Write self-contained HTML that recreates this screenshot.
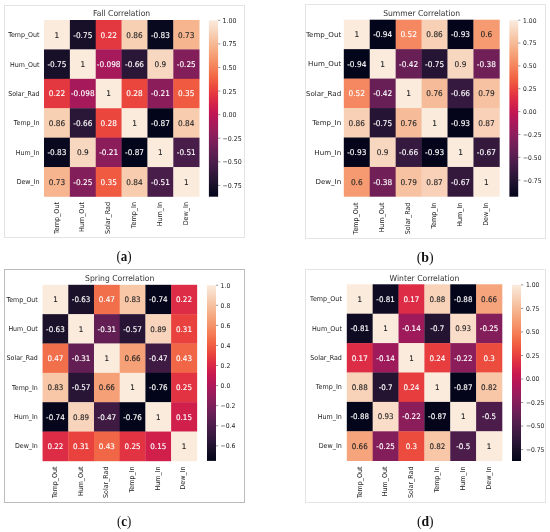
<!DOCTYPE html>
<html><head><meta charset="utf-8"><title>Correlation heatmaps</title>
<style>
html,body{margin:0;padding:0;background:#fff;}
svg{display:block;filter:blur(0.35px);font-family:"DejaVu Sans","Liberation Sans",sans-serif;}
</style></head><body>
<svg width="550" height="532" viewBox="0 0 550 532">
<defs><linearGradient id="gFall" x1="0" y1="0" x2="0" y2="1"><stop offset="0.0000" stop-color="#faebdd"/><stop offset="0.0312" stop-color="#f9e0cd"/><stop offset="0.0625" stop-color="#f8d4bc"/><stop offset="0.0938" stop-color="#f7c9aa"/><stop offset="0.1250" stop-color="#f6bc99"/><stop offset="0.1562" stop-color="#f6b089"/><stop offset="0.1875" stop-color="#f6a37a"/><stop offset="0.2188" stop-color="#f5966c"/><stop offset="0.2500" stop-color="#f58860"/><stop offset="0.2812" stop-color="#f47a54"/><stop offset="0.3125" stop-color="#f26b49"/><stop offset="0.3438" stop-color="#f05c42"/><stop offset="0.3750" stop-color="#ec4c3e"/><stop offset="0.4062" stop-color="#e73d3f"/><stop offset="0.4375" stop-color="#df2f44"/><stop offset="0.4688" stop-color="#d62449"/><stop offset="0.5000" stop-color="#cb1b4f"/><stop offset="0.5312" stop-color="#bf1654"/><stop offset="0.5625" stop-color="#b21758"/><stop offset="0.5938" stop-color="#a4195b"/><stop offset="0.6250" stop-color="#971c5b"/><stop offset="0.6562" stop-color="#891e5b"/><stop offset="0.6875" stop-color="#7b1f59"/><stop offset="0.7188" stop-color="#6e1f57"/><stop offset="0.7500" stop-color="#611f53"/><stop offset="0.7812" stop-color="#541e4e"/><stop offset="0.8125" stop-color="#481c48"/><stop offset="0.8438" stop-color="#3c1a42"/><stop offset="0.8750" stop-color="#30173a"/><stop offset="0.9062" stop-color="#241432"/><stop offset="0.9375" stop-color="#180f29"/><stop offset="0.9688" stop-color="#0d0a21"/><stop offset="1.0000" stop-color="#03051a"/></linearGradient><linearGradient id="gSummer" x1="0" y1="0" x2="0" y2="1"><stop offset="0.0000" stop-color="#faebdd"/><stop offset="0.0312" stop-color="#f9e0cd"/><stop offset="0.0625" stop-color="#f8d4bc"/><stop offset="0.0938" stop-color="#f7c9aa"/><stop offset="0.1250" stop-color="#f6bc99"/><stop offset="0.1562" stop-color="#f6b089"/><stop offset="0.1875" stop-color="#f6a37a"/><stop offset="0.2188" stop-color="#f5966c"/><stop offset="0.2500" stop-color="#f58860"/><stop offset="0.2812" stop-color="#f47a54"/><stop offset="0.3125" stop-color="#f26b49"/><stop offset="0.3438" stop-color="#f05c42"/><stop offset="0.3750" stop-color="#ec4c3e"/><stop offset="0.4062" stop-color="#e73d3f"/><stop offset="0.4375" stop-color="#df2f44"/><stop offset="0.4688" stop-color="#d62449"/><stop offset="0.5000" stop-color="#cb1b4f"/><stop offset="0.5312" stop-color="#bf1654"/><stop offset="0.5625" stop-color="#b21758"/><stop offset="0.5938" stop-color="#a4195b"/><stop offset="0.6250" stop-color="#971c5b"/><stop offset="0.6562" stop-color="#891e5b"/><stop offset="0.6875" stop-color="#7b1f59"/><stop offset="0.7188" stop-color="#6e1f57"/><stop offset="0.7500" stop-color="#611f53"/><stop offset="0.7812" stop-color="#541e4e"/><stop offset="0.8125" stop-color="#481c48"/><stop offset="0.8438" stop-color="#3c1a42"/><stop offset="0.8750" stop-color="#30173a"/><stop offset="0.9062" stop-color="#241432"/><stop offset="0.9375" stop-color="#180f29"/><stop offset="0.9688" stop-color="#0d0a21"/><stop offset="1.0000" stop-color="#03051a"/></linearGradient><linearGradient id="gSpring" x1="0" y1="0" x2="0" y2="1"><stop offset="0.0000" stop-color="#faebdd"/><stop offset="0.0312" stop-color="#f9e0cd"/><stop offset="0.0625" stop-color="#f8d4bc"/><stop offset="0.0938" stop-color="#f7c9aa"/><stop offset="0.1250" stop-color="#f6bc99"/><stop offset="0.1562" stop-color="#f6b089"/><stop offset="0.1875" stop-color="#f6a37a"/><stop offset="0.2188" stop-color="#f5966c"/><stop offset="0.2500" stop-color="#f58860"/><stop offset="0.2812" stop-color="#f47a54"/><stop offset="0.3125" stop-color="#f26b49"/><stop offset="0.3438" stop-color="#f05c42"/><stop offset="0.3750" stop-color="#ec4c3e"/><stop offset="0.4062" stop-color="#e73d3f"/><stop offset="0.4375" stop-color="#df2f44"/><stop offset="0.4688" stop-color="#d62449"/><stop offset="0.5000" stop-color="#cb1b4f"/><stop offset="0.5312" stop-color="#bf1654"/><stop offset="0.5625" stop-color="#b21758"/><stop offset="0.5938" stop-color="#a4195b"/><stop offset="0.6250" stop-color="#971c5b"/><stop offset="0.6562" stop-color="#891e5b"/><stop offset="0.6875" stop-color="#7b1f59"/><stop offset="0.7188" stop-color="#6e1f57"/><stop offset="0.7500" stop-color="#611f53"/><stop offset="0.7812" stop-color="#541e4e"/><stop offset="0.8125" stop-color="#481c48"/><stop offset="0.8438" stop-color="#3c1a42"/><stop offset="0.8750" stop-color="#30173a"/><stop offset="0.9062" stop-color="#241432"/><stop offset="0.9375" stop-color="#180f29"/><stop offset="0.9688" stop-color="#0d0a21"/><stop offset="1.0000" stop-color="#03051a"/></linearGradient><linearGradient id="gWinter" x1="0" y1="0" x2="0" y2="1"><stop offset="0.0000" stop-color="#faebdd"/><stop offset="0.0312" stop-color="#f9e0cd"/><stop offset="0.0625" stop-color="#f8d4bc"/><stop offset="0.0938" stop-color="#f7c9aa"/><stop offset="0.1250" stop-color="#f6bc99"/><stop offset="0.1562" stop-color="#f6b089"/><stop offset="0.1875" stop-color="#f6a37a"/><stop offset="0.2188" stop-color="#f5966c"/><stop offset="0.2500" stop-color="#f58860"/><stop offset="0.2812" stop-color="#f47a54"/><stop offset="0.3125" stop-color="#f26b49"/><stop offset="0.3438" stop-color="#f05c42"/><stop offset="0.3750" stop-color="#ec4c3e"/><stop offset="0.4062" stop-color="#e73d3f"/><stop offset="0.4375" stop-color="#df2f44"/><stop offset="0.4688" stop-color="#d62449"/><stop offset="0.5000" stop-color="#cb1b4f"/><stop offset="0.5312" stop-color="#bf1654"/><stop offset="0.5625" stop-color="#b21758"/><stop offset="0.5938" stop-color="#a4195b"/><stop offset="0.6250" stop-color="#971c5b"/><stop offset="0.6562" stop-color="#891e5b"/><stop offset="0.6875" stop-color="#7b1f59"/><stop offset="0.7188" stop-color="#6e1f57"/><stop offset="0.7500" stop-color="#611f53"/><stop offset="0.7812" stop-color="#541e4e"/><stop offset="0.8125" stop-color="#481c48"/><stop offset="0.8438" stop-color="#3c1a42"/><stop offset="0.8750" stop-color="#30173a"/><stop offset="0.9062" stop-color="#241432"/><stop offset="0.9375" stop-color="#180f29"/><stop offset="0.9688" stop-color="#0d0a21"/><stop offset="1.0000" stop-color="#03051a"/></linearGradient></defs>
<rect width="550" height="532" fill="#fff"/>
<rect x="4.5" y="5.5" width="240.00" height="232.00" fill="#fff" stroke="#e4e4e4" stroke-width="1"/>
<text transform="translate(121.60,16.40) scale(1,1.07)" font-size="7.65" text-anchor="middle" fill="#333">Fall Correlation</text>
<rect x="44.00" y="20.00" width="26.17" height="29.72" fill="#faebdd"/>
<rect x="69.87" y="20.00" width="26.17" height="29.72" fill="#180f29"/>
<rect x="95.73" y="20.00" width="26.17" height="29.72" fill="#e43841"/>
<rect x="121.60" y="20.00" width="26.17" height="29.72" fill="#f7cfb3"/>
<rect x="147.47" y="20.00" width="26.17" height="29.72" fill="#08081e"/>
<rect x="173.33" y="20.00" width="26.17" height="29.72" fill="#f6b48f"/>
<rect x="44.00" y="49.42" width="26.17" height="29.72" fill="#180f29"/>
<rect x="69.87" y="49.42" width="26.17" height="29.72" fill="#faebdd"/>
<rect x="95.73" y="49.42" width="26.17" height="29.72" fill="#a6195a"/>
<rect x="121.60" y="49.42" width="26.17" height="29.72" fill="#2a1636"/>
<rect x="147.47" y="49.42" width="26.17" height="29.72" fill="#f8d7c0"/>
<rect x="173.33" y="49.42" width="26.17" height="29.72" fill="#821e5a"/>
<rect x="44.00" y="78.83" width="26.17" height="29.72" fill="#e43841"/>
<rect x="69.87" y="78.83" width="26.17" height="29.72" fill="#a6195a"/>
<rect x="95.73" y="78.83" width="26.17" height="29.72" fill="#faebdd"/>
<rect x="121.60" y="78.83" width="26.17" height="29.72" fill="#eb463e"/>
<rect x="147.47" y="78.83" width="26.17" height="29.72" fill="#8c1d5b"/>
<rect x="173.33" y="78.83" width="26.17" height="29.72" fill="#ef5a41"/>
<rect x="44.00" y="108.25" width="26.17" height="29.72" fill="#f7cfb3"/>
<rect x="69.87" y="108.25" width="26.17" height="29.72" fill="#2a1636"/>
<rect x="95.73" y="108.25" width="26.17" height="29.72" fill="#eb463e"/>
<rect x="121.60" y="108.25" width="26.17" height="29.72" fill="#faebdd"/>
<rect x="147.47" y="108.25" width="26.17" height="29.72" fill="#03051a"/>
<rect x="173.33" y="108.25" width="26.17" height="29.72" fill="#f7ccaf"/>
<rect x="44.00" y="137.67" width="26.17" height="29.72" fill="#08081e"/>
<rect x="69.87" y="137.67" width="26.17" height="29.72" fill="#f8d7c0"/>
<rect x="95.73" y="137.67" width="26.17" height="29.72" fill="#8c1d5b"/>
<rect x="121.60" y="137.67" width="26.17" height="29.72" fill="#03051a"/>
<rect x="147.47" y="137.67" width="26.17" height="29.72" fill="#faebdd"/>
<rect x="173.33" y="137.67" width="26.17" height="29.72" fill="#491d49"/>
<rect x="44.00" y="167.08" width="26.17" height="29.72" fill="#f6b48f"/>
<rect x="69.87" y="167.08" width="26.17" height="29.72" fill="#821e5a"/>
<rect x="95.73" y="167.08" width="26.17" height="29.72" fill="#ef5a41"/>
<rect x="121.60" y="167.08" width="26.17" height="29.72" fill="#f7ccaf"/>
<rect x="147.47" y="167.08" width="26.17" height="29.72" fill="#491d49"/>
<rect x="173.33" y="167.08" width="26.17" height="29.72" fill="#faebdd"/>
<text transform="translate(56.93,37.58) scale(1,1.07)" font-size="7.35" text-anchor="middle" fill="#262626" stroke="#262626" stroke-width="0.12">1</text>
<text transform="translate(82.80,37.58) scale(1,1.07)" font-size="7.35" text-anchor="middle" fill="#ffffff" stroke="#ffffff" stroke-width="0.12">-0.75</text>
<text transform="translate(108.67,37.58) scale(1,1.07)" font-size="7.35" text-anchor="middle" fill="#ffffff" stroke="#ffffff" stroke-width="0.12">0.22</text>
<text transform="translate(134.53,37.58) scale(1,1.07)" font-size="7.35" text-anchor="middle" fill="#262626" stroke="#262626" stroke-width="0.12">0.86</text>
<text transform="translate(160.40,37.58) scale(1,1.07)" font-size="7.35" text-anchor="middle" fill="#ffffff" stroke="#ffffff" stroke-width="0.12">-0.83</text>
<text transform="translate(186.27,37.58) scale(1,1.07)" font-size="7.35" text-anchor="middle" fill="#262626" stroke="#262626" stroke-width="0.12">0.73</text>
<text transform="translate(56.93,67.00) scale(1,1.07)" font-size="7.35" text-anchor="middle" fill="#ffffff" stroke="#ffffff" stroke-width="0.12">-0.75</text>
<text transform="translate(82.80,67.00) scale(1,1.07)" font-size="7.35" text-anchor="middle" fill="#262626" stroke="#262626" stroke-width="0.12">1</text>
<text transform="translate(108.67,67.00) scale(1,1.07)" font-size="7.35" text-anchor="middle" fill="#ffffff" stroke="#ffffff" stroke-width="0.12">-0.098</text>
<text transform="translate(134.53,67.00) scale(1,1.07)" font-size="7.35" text-anchor="middle" fill="#ffffff" stroke="#ffffff" stroke-width="0.12">-0.66</text>
<text transform="translate(160.40,67.00) scale(1,1.07)" font-size="7.35" text-anchor="middle" fill="#262626" stroke="#262626" stroke-width="0.12">0.9</text>
<text transform="translate(186.27,67.00) scale(1,1.07)" font-size="7.35" text-anchor="middle" fill="#ffffff" stroke="#ffffff" stroke-width="0.12">-0.25</text>
<text transform="translate(56.93,96.41) scale(1,1.07)" font-size="7.35" text-anchor="middle" fill="#ffffff" stroke="#ffffff" stroke-width="0.12">0.22</text>
<text transform="translate(82.80,96.41) scale(1,1.07)" font-size="7.35" text-anchor="middle" fill="#ffffff" stroke="#ffffff" stroke-width="0.12">-0.098</text>
<text transform="translate(108.67,96.41) scale(1,1.07)" font-size="7.35" text-anchor="middle" fill="#262626" stroke="#262626" stroke-width="0.12">1</text>
<text transform="translate(134.53,96.41) scale(1,1.07)" font-size="7.35" text-anchor="middle" fill="#ffffff" stroke="#ffffff" stroke-width="0.12">0.28</text>
<text transform="translate(160.40,96.41) scale(1,1.07)" font-size="7.35" text-anchor="middle" fill="#ffffff" stroke="#ffffff" stroke-width="0.12">-0.21</text>
<text transform="translate(186.27,96.41) scale(1,1.07)" font-size="7.35" text-anchor="middle" fill="#ffffff" stroke="#ffffff" stroke-width="0.12">0.35</text>
<text transform="translate(56.93,125.83) scale(1,1.07)" font-size="7.35" text-anchor="middle" fill="#262626" stroke="#262626" stroke-width="0.12">0.86</text>
<text transform="translate(82.80,125.83) scale(1,1.07)" font-size="7.35" text-anchor="middle" fill="#ffffff" stroke="#ffffff" stroke-width="0.12">-0.66</text>
<text transform="translate(108.67,125.83) scale(1,1.07)" font-size="7.35" text-anchor="middle" fill="#ffffff" stroke="#ffffff" stroke-width="0.12">0.28</text>
<text transform="translate(134.53,125.83) scale(1,1.07)" font-size="7.35" text-anchor="middle" fill="#262626" stroke="#262626" stroke-width="0.12">1</text>
<text transform="translate(160.40,125.83) scale(1,1.07)" font-size="7.35" text-anchor="middle" fill="#ffffff" stroke="#ffffff" stroke-width="0.12">-0.87</text>
<text transform="translate(186.27,125.83) scale(1,1.07)" font-size="7.35" text-anchor="middle" fill="#262626" stroke="#262626" stroke-width="0.12">0.84</text>
<text transform="translate(56.93,155.25) scale(1,1.07)" font-size="7.35" text-anchor="middle" fill="#ffffff" stroke="#ffffff" stroke-width="0.12">-0.83</text>
<text transform="translate(82.80,155.25) scale(1,1.07)" font-size="7.35" text-anchor="middle" fill="#262626" stroke="#262626" stroke-width="0.12">0.9</text>
<text transform="translate(108.67,155.25) scale(1,1.07)" font-size="7.35" text-anchor="middle" fill="#ffffff" stroke="#ffffff" stroke-width="0.12">-0.21</text>
<text transform="translate(134.53,155.25) scale(1,1.07)" font-size="7.35" text-anchor="middle" fill="#ffffff" stroke="#ffffff" stroke-width="0.12">-0.87</text>
<text transform="translate(160.40,155.25) scale(1,1.07)" font-size="7.35" text-anchor="middle" fill="#262626" stroke="#262626" stroke-width="0.12">1</text>
<text transform="translate(186.27,155.25) scale(1,1.07)" font-size="7.35" text-anchor="middle" fill="#ffffff" stroke="#ffffff" stroke-width="0.12">-0.51</text>
<text transform="translate(56.93,184.66) scale(1,1.07)" font-size="7.35" text-anchor="middle" fill="#262626" stroke="#262626" stroke-width="0.12">0.73</text>
<text transform="translate(82.80,184.66) scale(1,1.07)" font-size="7.35" text-anchor="middle" fill="#ffffff" stroke="#ffffff" stroke-width="0.12">-0.25</text>
<text transform="translate(108.67,184.66) scale(1,1.07)" font-size="7.35" text-anchor="middle" fill="#ffffff" stroke="#ffffff" stroke-width="0.12">0.35</text>
<text transform="translate(134.53,184.66) scale(1,1.07)" font-size="7.35" text-anchor="middle" fill="#262626" stroke="#262626" stroke-width="0.12">0.84</text>
<text transform="translate(160.40,184.66) scale(1,1.07)" font-size="7.35" text-anchor="middle" fill="#ffffff" stroke="#ffffff" stroke-width="0.12">-0.51</text>
<text transform="translate(186.27,184.66) scale(1,1.07)" font-size="7.35" text-anchor="middle" fill="#262626" stroke="#262626" stroke-width="0.12">1</text>
<text transform="translate(39.55,37.18) scale(1,1.07)" font-size="6.32" text-anchor="end" fill="#222">Temp_Out</text>
<text transform="translate(39.55,66.59) scale(1,1.07)" font-size="6.32" text-anchor="end" fill="#222">Hum_Out</text>
<text transform="translate(39.55,96.01) scale(1,1.07)" font-size="6.32" text-anchor="end" fill="#222">Solar_Rad</text>
<text transform="translate(39.55,125.43) scale(1,1.07)" font-size="6.32" text-anchor="end" fill="#222">Temp_In</text>
<text transform="translate(39.55,154.84) scale(1,1.07)" font-size="6.32" text-anchor="end" fill="#222">Hum_In</text>
<text transform="translate(39.55,184.26) scale(1,1.07)" font-size="6.32" text-anchor="end" fill="#222">Dew_In</text>
<text transform="translate(58.60,202.00) rotate(-90) scale(1,1.07)" font-size="6.45" text-anchor="end" fill="#222">Temp_Out</text>
<text transform="translate(84.47,202.00) rotate(-90) scale(1,1.07)" font-size="6.45" text-anchor="end" fill="#222">Hum_Out</text>
<text transform="translate(110.34,202.00) rotate(-90) scale(1,1.07)" font-size="6.45" text-anchor="end" fill="#222">Solar_Rad</text>
<text transform="translate(136.20,202.00) rotate(-90) scale(1,1.07)" font-size="6.45" text-anchor="end" fill="#222">Temp_In</text>
<text transform="translate(162.07,202.00) rotate(-90) scale(1,1.07)" font-size="6.45" text-anchor="end" fill="#222">Hum_In</text>
<text transform="translate(187.94,202.00) rotate(-90) scale(1,1.07)" font-size="6.45" text-anchor="end" fill="#222">Dew_In</text>
<rect x="208.9" y="20.3" width="9.20" height="176.40" fill="url(#gFall)"/>
<line x1="218.10" x2="220.30" y1="20.30" y2="20.30" stroke="#333" stroke-width="0.5"/>
<text transform="translate(222.40,22.76) scale(1,1.07)" font-size="6.3" fill="#222">1.00</text>
<line x1="218.10" x2="220.30" y1="43.88" y2="43.88" stroke="#333" stroke-width="0.5"/>
<text transform="translate(222.40,46.34) scale(1,1.07)" font-size="6.3" fill="#222">0.75</text>
<line x1="218.10" x2="220.30" y1="67.47" y2="67.47" stroke="#333" stroke-width="0.5"/>
<text transform="translate(222.40,69.93) scale(1,1.07)" font-size="6.3" fill="#222">0.50</text>
<line x1="218.10" x2="220.30" y1="91.05" y2="91.05" stroke="#333" stroke-width="0.5"/>
<text transform="translate(222.40,93.51) scale(1,1.07)" font-size="6.3" fill="#222">0.25</text>
<line x1="218.10" x2="220.30" y1="114.63" y2="114.63" stroke="#333" stroke-width="0.5"/>
<text transform="translate(222.40,117.09) scale(1,1.07)" font-size="6.3" fill="#222">0.00</text>
<line x1="218.10" x2="220.30" y1="138.21" y2="138.21" stroke="#333" stroke-width="0.5"/>
<text transform="translate(222.40,140.67) scale(1,1.07)" font-size="6.3" fill="#222">−0.25</text>
<line x1="218.10" x2="220.30" y1="161.80" y2="161.80" stroke="#333" stroke-width="0.5"/>
<text transform="translate(222.40,164.26) scale(1,1.07)" font-size="6.3" fill="#222">−0.50</text>
<line x1="218.10" x2="220.30" y1="185.38" y2="185.38" stroke="#333" stroke-width="0.5"/>
<text transform="translate(222.40,187.84) scale(1,1.07)" font-size="6.3" fill="#222">−0.75</text>
<text transform="translate(124.1,261.4) scale(0.94,1)" font-size="13.9" text-anchor="middle" fill="#111" font-family="'Liberation Serif', 'DejaVu Serif', serif">(<tspan font-weight="bold">a</tspan>)</text>
<rect x="305.5" y="4.5" width="240.00" height="234.00" fill="#fff" stroke="#e4e4e4" stroke-width="1"/>
<text transform="translate(421.60,16.10) scale(1,1.07)" font-size="7.65" text-anchor="middle" fill="#333">Summer Correlation</text>
<rect x="343.80" y="19.70" width="26.23" height="29.75" fill="#faebdd"/>
<rect x="369.73" y="19.70" width="26.23" height="29.75" fill="#03051a"/>
<rect x="395.67" y="19.70" width="26.23" height="29.75" fill="#f58860"/>
<rect x="421.60" y="19.70" width="26.23" height="29.75" fill="#f7d0b5"/>
<rect x="447.53" y="19.70" width="26.23" height="29.75" fill="#04051a"/>
<rect x="473.47" y="19.70" width="26.23" height="29.75" fill="#f69b71"/>
<rect x="343.80" y="49.15" width="26.23" height="29.75" fill="#03051a"/>
<rect x="369.73" y="49.15" width="26.23" height="29.75" fill="#faebdd"/>
<rect x="395.67" y="49.15" width="26.23" height="29.75" fill="#681f55"/>
<rect x="421.60" y="49.15" width="26.23" height="29.75" fill="#251433"/>
<rect x="447.53" y="49.15" width="26.23" height="29.75" fill="#f8d7c0"/>
<rect x="473.47" y="49.15" width="26.23" height="29.75" fill="#701f57"/>
<rect x="343.80" y="78.60" width="26.23" height="29.75" fill="#f58860"/>
<rect x="369.73" y="78.60" width="26.23" height="29.75" fill="#681f55"/>
<rect x="395.67" y="78.60" width="26.23" height="29.75" fill="#faebdd"/>
<rect x="421.60" y="78.60" width="26.23" height="29.75" fill="#f6bc99"/>
<rect x="447.53" y="78.60" width="26.23" height="29.75" fill="#35193e"/>
<rect x="473.47" y="78.60" width="26.23" height="29.75" fill="#f7c2a2"/>
<rect x="343.80" y="108.05" width="26.23" height="29.75" fill="#f7d0b5"/>
<rect x="369.73" y="108.05" width="26.23" height="29.75" fill="#251433"/>
<rect x="395.67" y="108.05" width="26.23" height="29.75" fill="#f6bc99"/>
<rect x="421.60" y="108.05" width="26.23" height="29.75" fill="#faebdd"/>
<rect x="447.53" y="108.05" width="26.23" height="29.75" fill="#04051a"/>
<rect x="473.47" y="108.05" width="26.23" height="29.75" fill="#f8d1b8"/>
<rect x="343.80" y="137.50" width="26.23" height="29.75" fill="#04051a"/>
<rect x="369.73" y="137.50" width="26.23" height="29.75" fill="#f8d7c0"/>
<rect x="395.67" y="137.50" width="26.23" height="29.75" fill="#35193e"/>
<rect x="421.60" y="137.50" width="26.23" height="29.75" fill="#04051a"/>
<rect x="447.53" y="137.50" width="26.23" height="29.75" fill="#faebdd"/>
<rect x="473.47" y="137.50" width="26.23" height="29.75" fill="#34193d"/>
<rect x="343.80" y="166.95" width="26.23" height="29.75" fill="#f69b71"/>
<rect x="369.73" y="166.95" width="26.23" height="29.75" fill="#701f57"/>
<rect x="395.67" y="166.95" width="26.23" height="29.75" fill="#f7c2a2"/>
<rect x="421.60" y="166.95" width="26.23" height="29.75" fill="#f8d1b8"/>
<rect x="447.53" y="166.95" width="26.23" height="29.75" fill="#34193d"/>
<rect x="473.47" y="166.95" width="26.23" height="29.75" fill="#faebdd"/>
<text transform="translate(356.77,37.32) scale(1,1.07)" font-size="7.4" text-anchor="middle" fill="#262626" stroke="#262626" stroke-width="0.12">1</text>
<text transform="translate(382.70,37.32) scale(1,1.07)" font-size="7.4" text-anchor="middle" fill="#ffffff" stroke="#ffffff" stroke-width="0.12">-0.94</text>
<text transform="translate(408.63,37.32) scale(1,1.07)" font-size="7.4" text-anchor="middle" fill="#ffffff" stroke="#ffffff" stroke-width="0.12">0.52</text>
<text transform="translate(434.57,37.32) scale(1,1.07)" font-size="7.4" text-anchor="middle" fill="#262626" stroke="#262626" stroke-width="0.12">0.86</text>
<text transform="translate(460.50,37.32) scale(1,1.07)" font-size="7.4" text-anchor="middle" fill="#ffffff" stroke="#ffffff" stroke-width="0.12">-0.93</text>
<text transform="translate(486.43,37.32) scale(1,1.07)" font-size="7.4" text-anchor="middle" fill="#262626" stroke="#262626" stroke-width="0.12">0.6</text>
<text transform="translate(356.77,66.77) scale(1,1.07)" font-size="7.4" text-anchor="middle" fill="#ffffff" stroke="#ffffff" stroke-width="0.12">-0.94</text>
<text transform="translate(382.70,66.77) scale(1,1.07)" font-size="7.4" text-anchor="middle" fill="#262626" stroke="#262626" stroke-width="0.12">1</text>
<text transform="translate(408.63,66.77) scale(1,1.07)" font-size="7.4" text-anchor="middle" fill="#ffffff" stroke="#ffffff" stroke-width="0.12">-0.42</text>
<text transform="translate(434.57,66.77) scale(1,1.07)" font-size="7.4" text-anchor="middle" fill="#ffffff" stroke="#ffffff" stroke-width="0.12">-0.75</text>
<text transform="translate(460.50,66.77) scale(1,1.07)" font-size="7.4" text-anchor="middle" fill="#262626" stroke="#262626" stroke-width="0.12">0.9</text>
<text transform="translate(486.43,66.77) scale(1,1.07)" font-size="7.4" text-anchor="middle" fill="#ffffff" stroke="#ffffff" stroke-width="0.12">-0.38</text>
<text transform="translate(356.77,96.22) scale(1,1.07)" font-size="7.4" text-anchor="middle" fill="#ffffff" stroke="#ffffff" stroke-width="0.12">0.52</text>
<text transform="translate(382.70,96.22) scale(1,1.07)" font-size="7.4" text-anchor="middle" fill="#ffffff" stroke="#ffffff" stroke-width="0.12">-0.42</text>
<text transform="translate(408.63,96.22) scale(1,1.07)" font-size="7.4" text-anchor="middle" fill="#262626" stroke="#262626" stroke-width="0.12">1</text>
<text transform="translate(434.57,96.22) scale(1,1.07)" font-size="7.4" text-anchor="middle" fill="#262626" stroke="#262626" stroke-width="0.12">0.76</text>
<text transform="translate(460.50,96.22) scale(1,1.07)" font-size="7.4" text-anchor="middle" fill="#ffffff" stroke="#ffffff" stroke-width="0.12">-0.66</text>
<text transform="translate(486.43,96.22) scale(1,1.07)" font-size="7.4" text-anchor="middle" fill="#262626" stroke="#262626" stroke-width="0.12">0.79</text>
<text transform="translate(356.77,125.67) scale(1,1.07)" font-size="7.4" text-anchor="middle" fill="#262626" stroke="#262626" stroke-width="0.12">0.86</text>
<text transform="translate(382.70,125.67) scale(1,1.07)" font-size="7.4" text-anchor="middle" fill="#ffffff" stroke="#ffffff" stroke-width="0.12">-0.75</text>
<text transform="translate(408.63,125.67) scale(1,1.07)" font-size="7.4" text-anchor="middle" fill="#262626" stroke="#262626" stroke-width="0.12">0.76</text>
<text transform="translate(434.57,125.67) scale(1,1.07)" font-size="7.4" text-anchor="middle" fill="#262626" stroke="#262626" stroke-width="0.12">1</text>
<text transform="translate(460.50,125.67) scale(1,1.07)" font-size="7.4" text-anchor="middle" fill="#ffffff" stroke="#ffffff" stroke-width="0.12">-0.93</text>
<text transform="translate(486.43,125.67) scale(1,1.07)" font-size="7.4" text-anchor="middle" fill="#262626" stroke="#262626" stroke-width="0.12">0.87</text>
<text transform="translate(356.77,155.12) scale(1,1.07)" font-size="7.4" text-anchor="middle" fill="#ffffff" stroke="#ffffff" stroke-width="0.12">-0.93</text>
<text transform="translate(382.70,155.12) scale(1,1.07)" font-size="7.4" text-anchor="middle" fill="#262626" stroke="#262626" stroke-width="0.12">0.9</text>
<text transform="translate(408.63,155.12) scale(1,1.07)" font-size="7.4" text-anchor="middle" fill="#ffffff" stroke="#ffffff" stroke-width="0.12">-0.66</text>
<text transform="translate(434.57,155.12) scale(1,1.07)" font-size="7.4" text-anchor="middle" fill="#ffffff" stroke="#ffffff" stroke-width="0.12">-0.93</text>
<text transform="translate(460.50,155.12) scale(1,1.07)" font-size="7.4" text-anchor="middle" fill="#262626" stroke="#262626" stroke-width="0.12">1</text>
<text transform="translate(486.43,155.12) scale(1,1.07)" font-size="7.4" text-anchor="middle" fill="#ffffff" stroke="#ffffff" stroke-width="0.12">-0.67</text>
<text transform="translate(356.77,184.57) scale(1,1.07)" font-size="7.4" text-anchor="middle" fill="#262626" stroke="#262626" stroke-width="0.12">0.6</text>
<text transform="translate(382.70,184.57) scale(1,1.07)" font-size="7.4" text-anchor="middle" fill="#ffffff" stroke="#ffffff" stroke-width="0.12">-0.38</text>
<text transform="translate(408.63,184.57) scale(1,1.07)" font-size="7.4" text-anchor="middle" fill="#262626" stroke="#262626" stroke-width="0.12">0.79</text>
<text transform="translate(434.57,184.57) scale(1,1.07)" font-size="7.4" text-anchor="middle" fill="#262626" stroke="#262626" stroke-width="0.12">0.87</text>
<text transform="translate(460.50,184.57) scale(1,1.07)" font-size="7.4" text-anchor="middle" fill="#ffffff" stroke="#ffffff" stroke-width="0.12">-0.67</text>
<text transform="translate(486.43,184.57) scale(1,1.07)" font-size="7.4" text-anchor="middle" fill="#262626" stroke="#262626" stroke-width="0.12">1</text>
<text transform="translate(341.20,37.04) scale(1,0.97)" font-size="7.1" text-anchor="end" fill="#222">Temp_Out</text>
<text transform="translate(341.20,66.49) scale(1,0.97)" font-size="7.1" text-anchor="end" fill="#222">Hum_Out</text>
<text transform="translate(341.20,95.94) scale(1,0.97)" font-size="7.1" text-anchor="end" fill="#222">Solar_Rad</text>
<text transform="translate(341.20,125.39) scale(1,0.97)" font-size="7.1" text-anchor="end" fill="#222">Temp_In</text>
<text transform="translate(341.20,154.84) scale(1,0.97)" font-size="7.1" text-anchor="end" fill="#222">Hum_In</text>
<text transform="translate(341.20,184.29) scale(1,0.97)" font-size="7.1" text-anchor="end" fill="#222">Dew_In</text>
<text transform="translate(358.37,202.60) rotate(-90) scale(1,1.07)" font-size="6.4" text-anchor="end" fill="#222">Temp_Out</text>
<text transform="translate(384.30,202.60) rotate(-90) scale(1,1.07)" font-size="6.4" text-anchor="end" fill="#222">Hum_Out</text>
<text transform="translate(410.23,202.60) rotate(-90) scale(1,1.07)" font-size="6.4" text-anchor="end" fill="#222">Solar_Rad</text>
<text transform="translate(436.17,202.60) rotate(-90) scale(1,1.07)" font-size="6.4" text-anchor="end" fill="#222">Temp_In</text>
<text transform="translate(462.10,202.60) rotate(-90) scale(1,1.07)" font-size="6.4" text-anchor="end" fill="#222">Hum_In</text>
<text transform="translate(488.03,202.60) rotate(-90) scale(1,1.07)" font-size="6.4" text-anchor="end" fill="#222">Dew_In</text>
<rect x="509.4" y="20.2" width="8.80" height="176.50" fill="url(#gSummer)"/>
<line x1="518.20" x2="520.40" y1="20.20" y2="20.20" stroke="#333" stroke-width="0.5"/>
<text transform="translate(523.10,22.54) scale(1,1.07)" font-size="6.0" fill="#222">1.00</text>
<line x1="518.20" x2="520.40" y1="43.05" y2="43.05" stroke="#333" stroke-width="0.5"/>
<text transform="translate(523.10,45.39) scale(1,1.07)" font-size="6.0" fill="#222">0.75</text>
<line x1="518.20" x2="520.40" y1="65.90" y2="65.90" stroke="#333" stroke-width="0.5"/>
<text transform="translate(523.10,68.25) scale(1,1.07)" font-size="6.0" fill="#222">0.50</text>
<line x1="518.20" x2="520.40" y1="88.75" y2="88.75" stroke="#333" stroke-width="0.5"/>
<text transform="translate(523.10,91.10) scale(1,1.07)" font-size="6.0" fill="#222">0.25</text>
<line x1="518.20" x2="520.40" y1="111.60" y2="111.60" stroke="#333" stroke-width="0.5"/>
<text transform="translate(523.10,113.95) scale(1,1.07)" font-size="6.0" fill="#222">0.00</text>
<line x1="518.20" x2="520.40" y1="134.45" y2="134.45" stroke="#333" stroke-width="0.5"/>
<text transform="translate(523.10,136.80) scale(1,1.07)" font-size="6.0" fill="#222">−0.25</text>
<line x1="518.20" x2="520.40" y1="157.31" y2="157.31" stroke="#333" stroke-width="0.5"/>
<text transform="translate(523.10,159.65) scale(1,1.07)" font-size="6.0" fill="#222">−0.50</text>
<line x1="518.20" x2="520.40" y1="180.16" y2="180.16" stroke="#333" stroke-width="0.5"/>
<text transform="translate(523.10,182.50) scale(1,1.07)" font-size="6.0" fill="#222">−0.75</text>
<text transform="translate(425.2,261.7) scale(1.0,1)" font-size="13.9" text-anchor="middle" fill="#111" font-family="'Liberation Serif', 'DejaVu Serif', serif">(<tspan font-weight="bold">b</tspan>)</text>
<rect x="4.5" y="269.5" width="240.00" height="233.00" fill="#fff" stroke="#bcbcbc" stroke-width="1"/>
<text transform="translate(119.70,281.20) scale(1,1.07)" font-size="7.65" text-anchor="middle" fill="#333">Spring Correlation</text>
<rect x="42.55" y="284.80" width="26.02" height="29.65" fill="#faebdd"/>
<rect x="68.27" y="284.80" width="26.02" height="29.65" fill="#1b112b"/>
<rect x="93.98" y="284.80" width="26.02" height="29.65" fill="#f26f4c"/>
<rect x="119.70" y="284.80" width="26.02" height="29.65" fill="#f7c7a8"/>
<rect x="145.42" y="284.80" width="26.02" height="29.65" fill="#05061b"/>
<rect x="171.13" y="284.80" width="26.02" height="29.65" fill="#dd2c45"/>
<rect x="42.55" y="314.15" width="26.02" height="29.65" fill="#1b112b"/>
<rect x="68.27" y="314.15" width="26.02" height="29.65" fill="#faebdd"/>
<rect x="93.98" y="314.15" width="26.02" height="29.65" fill="#631f53"/>
<rect x="119.70" y="314.15" width="26.02" height="29.65" fill="#281535"/>
<rect x="145.42" y="314.15" width="26.02" height="29.65" fill="#f8d4bc"/>
<rect x="171.13" y="314.15" width="26.02" height="29.65" fill="#e9423e"/>
<rect x="42.55" y="343.50" width="26.02" height="29.65" fill="#f26f4c"/>
<rect x="68.27" y="343.50" width="26.02" height="29.65" fill="#631f53"/>
<rect x="93.98" y="343.50" width="26.02" height="29.65" fill="#faebdd"/>
<rect x="119.70" y="343.50" width="26.02" height="29.65" fill="#f6a077"/>
<rect x="145.42" y="343.50" width="26.02" height="29.65" fill="#3f1b43"/>
<rect x="171.13" y="343.50" width="26.02" height="29.65" fill="#f16646"/>
<rect x="42.55" y="372.85" width="26.02" height="29.65" fill="#f7c7a8"/>
<rect x="68.27" y="372.85" width="26.02" height="29.65" fill="#281535"/>
<rect x="93.98" y="372.85" width="26.02" height="29.65" fill="#f6a077"/>
<rect x="119.70" y="372.85" width="26.02" height="29.65" fill="#faebdd"/>
<rect x="145.42" y="372.85" width="26.02" height="29.65" fill="#03051a"/>
<rect x="171.13" y="372.85" width="26.02" height="29.65" fill="#e13342"/>
<rect x="42.55" y="402.20" width="26.02" height="29.65" fill="#05061b"/>
<rect x="68.27" y="402.20" width="26.02" height="29.65" fill="#f8d4bc"/>
<rect x="93.98" y="402.20" width="26.02" height="29.65" fill="#3f1b43"/>
<rect x="119.70" y="402.20" width="26.02" height="29.65" fill="#03051a"/>
<rect x="145.42" y="402.20" width="26.02" height="29.65" fill="#faebdd"/>
<rect x="171.13" y="402.20" width="26.02" height="29.65" fill="#d11f4c"/>
<rect x="42.55" y="431.55" width="26.02" height="29.65" fill="#dd2c45"/>
<rect x="68.27" y="431.55" width="26.02" height="29.65" fill="#e9423e"/>
<rect x="93.98" y="431.55" width="26.02" height="29.65" fill="#f16646"/>
<rect x="119.70" y="431.55" width="26.02" height="29.65" fill="#e13342"/>
<rect x="145.42" y="431.55" width="26.02" height="29.65" fill="#d11f4c"/>
<rect x="171.13" y="431.55" width="26.02" height="29.65" fill="#faebdd"/>
<text transform="translate(55.41,302.29) scale(1,1.07)" font-size="7.2" text-anchor="middle" fill="#262626" stroke="#262626" stroke-width="0.12">1</text>
<text transform="translate(81.12,302.29) scale(1,1.07)" font-size="7.2" text-anchor="middle" fill="#ffffff" stroke="#ffffff" stroke-width="0.12">-0.63</text>
<text transform="translate(106.84,302.29) scale(1,1.07)" font-size="7.2" text-anchor="middle" fill="#ffffff" stroke="#ffffff" stroke-width="0.12">0.47</text>
<text transform="translate(132.56,302.29) scale(1,1.07)" font-size="7.2" text-anchor="middle" fill="#262626" stroke="#262626" stroke-width="0.12">0.83</text>
<text transform="translate(158.28,302.29) scale(1,1.07)" font-size="7.2" text-anchor="middle" fill="#ffffff" stroke="#ffffff" stroke-width="0.12">-0.74</text>
<text transform="translate(183.99,302.29) scale(1,1.07)" font-size="7.2" text-anchor="middle" fill="#ffffff" stroke="#ffffff" stroke-width="0.12">0.22</text>
<text transform="translate(55.41,331.64) scale(1,1.07)" font-size="7.2" text-anchor="middle" fill="#ffffff" stroke="#ffffff" stroke-width="0.12">-0.63</text>
<text transform="translate(81.12,331.64) scale(1,1.07)" font-size="7.2" text-anchor="middle" fill="#262626" stroke="#262626" stroke-width="0.12">1</text>
<text transform="translate(106.84,331.64) scale(1,1.07)" font-size="7.2" text-anchor="middle" fill="#ffffff" stroke="#ffffff" stroke-width="0.12">-0.31</text>
<text transform="translate(132.56,331.64) scale(1,1.07)" font-size="7.2" text-anchor="middle" fill="#ffffff" stroke="#ffffff" stroke-width="0.12">-0.57</text>
<text transform="translate(158.28,331.64) scale(1,1.07)" font-size="7.2" text-anchor="middle" fill="#262626" stroke="#262626" stroke-width="0.12">0.89</text>
<text transform="translate(183.99,331.64) scale(1,1.07)" font-size="7.2" text-anchor="middle" fill="#ffffff" stroke="#ffffff" stroke-width="0.12">0.31</text>
<text transform="translate(55.41,360.99) scale(1,1.07)" font-size="7.2" text-anchor="middle" fill="#ffffff" stroke="#ffffff" stroke-width="0.12">0.47</text>
<text transform="translate(81.12,360.99) scale(1,1.07)" font-size="7.2" text-anchor="middle" fill="#ffffff" stroke="#ffffff" stroke-width="0.12">-0.31</text>
<text transform="translate(106.84,360.99) scale(1,1.07)" font-size="7.2" text-anchor="middle" fill="#262626" stroke="#262626" stroke-width="0.12">1</text>
<text transform="translate(132.56,360.99) scale(1,1.07)" font-size="7.2" text-anchor="middle" fill="#262626" stroke="#262626" stroke-width="0.12">0.66</text>
<text transform="translate(158.28,360.99) scale(1,1.07)" font-size="7.2" text-anchor="middle" fill="#ffffff" stroke="#ffffff" stroke-width="0.12">-0.47</text>
<text transform="translate(183.99,360.99) scale(1,1.07)" font-size="7.2" text-anchor="middle" fill="#ffffff" stroke="#ffffff" stroke-width="0.12">0.43</text>
<text transform="translate(55.41,390.34) scale(1,1.07)" font-size="7.2" text-anchor="middle" fill="#262626" stroke="#262626" stroke-width="0.12">0.83</text>
<text transform="translate(81.12,390.34) scale(1,1.07)" font-size="7.2" text-anchor="middle" fill="#ffffff" stroke="#ffffff" stroke-width="0.12">-0.57</text>
<text transform="translate(106.84,390.34) scale(1,1.07)" font-size="7.2" text-anchor="middle" fill="#262626" stroke="#262626" stroke-width="0.12">0.66</text>
<text transform="translate(132.56,390.34) scale(1,1.07)" font-size="7.2" text-anchor="middle" fill="#262626" stroke="#262626" stroke-width="0.12">1</text>
<text transform="translate(158.28,390.34) scale(1,1.07)" font-size="7.2" text-anchor="middle" fill="#ffffff" stroke="#ffffff" stroke-width="0.12">-0.76</text>
<text transform="translate(183.99,390.34) scale(1,1.07)" font-size="7.2" text-anchor="middle" fill="#ffffff" stroke="#ffffff" stroke-width="0.12">0.25</text>
<text transform="translate(55.41,419.69) scale(1,1.07)" font-size="7.2" text-anchor="middle" fill="#ffffff" stroke="#ffffff" stroke-width="0.12">-0.74</text>
<text transform="translate(81.12,419.69) scale(1,1.07)" font-size="7.2" text-anchor="middle" fill="#262626" stroke="#262626" stroke-width="0.12">0.89</text>
<text transform="translate(106.84,419.69) scale(1,1.07)" font-size="7.2" text-anchor="middle" fill="#ffffff" stroke="#ffffff" stroke-width="0.12">-0.47</text>
<text transform="translate(132.56,419.69) scale(1,1.07)" font-size="7.2" text-anchor="middle" fill="#ffffff" stroke="#ffffff" stroke-width="0.12">-0.76</text>
<text transform="translate(158.28,419.69) scale(1,1.07)" font-size="7.2" text-anchor="middle" fill="#262626" stroke="#262626" stroke-width="0.12">1</text>
<text transform="translate(183.99,419.69) scale(1,1.07)" font-size="7.2" text-anchor="middle" fill="#ffffff" stroke="#ffffff" stroke-width="0.12">0.15</text>
<text transform="translate(55.41,449.04) scale(1,1.07)" font-size="7.2" text-anchor="middle" fill="#ffffff" stroke="#ffffff" stroke-width="0.12">0.22</text>
<text transform="translate(81.12,449.04) scale(1,1.07)" font-size="7.2" text-anchor="middle" fill="#ffffff" stroke="#ffffff" stroke-width="0.12">0.31</text>
<text transform="translate(106.84,449.04) scale(1,1.07)" font-size="7.2" text-anchor="middle" fill="#ffffff" stroke="#ffffff" stroke-width="0.12">0.43</text>
<text transform="translate(132.56,449.04) scale(1,1.07)" font-size="7.2" text-anchor="middle" fill="#ffffff" stroke="#ffffff" stroke-width="0.12">0.25</text>
<text transform="translate(158.28,449.04) scale(1,1.07)" font-size="7.2" text-anchor="middle" fill="#ffffff" stroke="#ffffff" stroke-width="0.12">0.15</text>
<text transform="translate(183.99,449.04) scale(1,1.07)" font-size="7.2" text-anchor="middle" fill="#262626" stroke="#262626" stroke-width="0.12">1</text>
<text transform="translate(37.80,301.69) scale(1,1.07)" font-size="6.3" text-anchor="end" fill="#222">Temp_Out</text>
<text transform="translate(37.80,331.04) scale(1,1.07)" font-size="6.3" text-anchor="end" fill="#222">Hum_Out</text>
<text transform="translate(37.80,360.39) scale(1,1.07)" font-size="6.3" text-anchor="end" fill="#222">Solar_Rad</text>
<text transform="translate(37.80,389.74) scale(1,1.07)" font-size="6.3" text-anchor="end" fill="#222">Temp_In</text>
<text transform="translate(37.80,419.09) scale(1,1.07)" font-size="6.3" text-anchor="end" fill="#222">Hum_In</text>
<text transform="translate(37.80,448.44) scale(1,1.07)" font-size="6.3" text-anchor="end" fill="#222">Dew_In</text>
<text transform="translate(56.78,466.55) rotate(-90) scale(1,1.07)" font-size="6.34" text-anchor="end" fill="#222">Temp_Out</text>
<text transform="translate(82.50,466.55) rotate(-90) scale(1,1.07)" font-size="6.34" text-anchor="end" fill="#222">Hum_Out</text>
<text transform="translate(108.22,466.55) rotate(-90) scale(1,1.07)" font-size="6.34" text-anchor="end" fill="#222">Solar_Rad</text>
<text transform="translate(133.93,466.55) rotate(-90) scale(1,1.07)" font-size="6.34" text-anchor="end" fill="#222">Temp_In</text>
<text transform="translate(159.65,466.55) rotate(-90) scale(1,1.07)" font-size="6.34" text-anchor="end" fill="#222">Hum_In</text>
<text transform="translate(185.37,466.55) rotate(-90) scale(1,1.07)" font-size="6.34" text-anchor="end" fill="#222">Dew_In</text>
<rect x="207.0" y="285.2" width="9.00" height="175.70" fill="url(#gSpring)"/>
<line x1="216.00" x2="218.20" y1="285.20" y2="285.20" stroke="#333" stroke-width="0.5"/>
<text transform="translate(220.60,287.58) scale(1,1.07)" font-size="6.1" fill="#222">1.0</text>
<line x1="216.00" x2="218.20" y1="305.28" y2="305.28" stroke="#333" stroke-width="0.5"/>
<text transform="translate(220.60,307.66) scale(1,1.07)" font-size="6.1" fill="#222">0.8</text>
<line x1="216.00" x2="218.20" y1="325.36" y2="325.36" stroke="#333" stroke-width="0.5"/>
<text transform="translate(220.60,327.74) scale(1,1.07)" font-size="6.1" fill="#222">0.6</text>
<line x1="216.00" x2="218.20" y1="345.44" y2="345.44" stroke="#333" stroke-width="0.5"/>
<text transform="translate(220.60,347.82) scale(1,1.07)" font-size="6.1" fill="#222">0.4</text>
<line x1="216.00" x2="218.20" y1="365.52" y2="365.52" stroke="#333" stroke-width="0.5"/>
<text transform="translate(220.60,367.90) scale(1,1.07)" font-size="6.1" fill="#222">0.2</text>
<line x1="216.00" x2="218.20" y1="385.60" y2="385.60" stroke="#333" stroke-width="0.5"/>
<text transform="translate(220.60,387.98) scale(1,1.07)" font-size="6.1" fill="#222">0.0</text>
<line x1="216.00" x2="218.20" y1="405.68" y2="405.68" stroke="#333" stroke-width="0.5"/>
<text transform="translate(220.60,408.06) scale(1,1.07)" font-size="6.1" fill="#222">−0.2</text>
<line x1="216.00" x2="218.20" y1="425.76" y2="425.76" stroke="#333" stroke-width="0.5"/>
<text transform="translate(220.60,428.14) scale(1,1.07)" font-size="6.1" fill="#222">−0.4</text>
<line x1="216.00" x2="218.20" y1="445.84" y2="445.84" stroke="#333" stroke-width="0.5"/>
<text transform="translate(220.60,448.22) scale(1,1.07)" font-size="6.1" fill="#222">−0.6</text>
<text transform="translate(124.1,525.6) scale(0.93,1)" font-size="13.9" text-anchor="middle" fill="#111" font-family="'Liberation Serif', 'DejaVu Serif', serif">(<tspan font-weight="bold">c</tspan>)</text>
<rect x="305.5" y="269.5" width="240.00" height="233.00" fill="#fff" stroke="#e4e4e4" stroke-width="1"/>
<text transform="translate(424.40,280.70) scale(1,1.07)" font-size="7.65" text-anchor="middle" fill="#333">Winter Correlation</text>
<rect x="346.80" y="284.30" width="26.17" height="29.70" fill="#faebdd"/>
<rect x="372.67" y="284.30" width="26.17" height="29.70" fill="#0e0b22"/>
<rect x="398.53" y="284.30" width="26.17" height="29.70" fill="#dd2c45"/>
<rect x="424.40" y="284.30" width="26.17" height="29.70" fill="#f8d3ba"/>
<rect x="450.27" y="284.30" width="26.17" height="29.70" fill="#03051a"/>
<rect x="476.13" y="284.30" width="26.17" height="29.70" fill="#f6a47c"/>
<rect x="346.80" y="313.70" width="26.17" height="29.70" fill="#0e0b22"/>
<rect x="372.67" y="313.70" width="26.17" height="29.70" fill="#faebdd"/>
<rect x="398.53" y="313.70" width="26.17" height="29.70" fill="#9e1a5b"/>
<rect x="424.40" y="313.70" width="26.17" height="29.70" fill="#241432"/>
<rect x="450.27" y="313.70" width="26.17" height="29.70" fill="#f9ddc9"/>
<rect x="476.13" y="313.70" width="26.17" height="29.70" fill="#841e5a"/>
<rect x="346.80" y="343.10" width="26.17" height="29.70" fill="#dd2c45"/>
<rect x="372.67" y="343.10" width="26.17" height="29.70" fill="#9e1a5b"/>
<rect x="398.53" y="343.10" width="26.17" height="29.70" fill="#faebdd"/>
<rect x="424.40" y="343.10" width="26.17" height="29.70" fill="#e73d3f"/>
<rect x="450.27" y="343.10" width="26.17" height="29.70" fill="#8b1d5b"/>
<rect x="476.13" y="343.10" width="26.17" height="29.70" fill="#ec4c3e"/>
<rect x="346.80" y="372.50" width="26.17" height="29.70" fill="#f8d3ba"/>
<rect x="372.67" y="372.50" width="26.17" height="29.70" fill="#241432"/>
<rect x="398.53" y="372.50" width="26.17" height="29.70" fill="#e73d3f"/>
<rect x="424.40" y="372.50" width="26.17" height="29.70" fill="#faebdd"/>
<rect x="450.27" y="372.50" width="26.17" height="29.70" fill="#04051a"/>
<rect x="476.13" y="372.50" width="26.17" height="29.70" fill="#f7c7a8"/>
<rect x="346.80" y="401.90" width="26.17" height="29.70" fill="#03051a"/>
<rect x="372.67" y="401.90" width="26.17" height="29.70" fill="#f9ddc9"/>
<rect x="398.53" y="401.90" width="26.17" height="29.70" fill="#8b1d5b"/>
<rect x="424.40" y="401.90" width="26.17" height="29.70" fill="#04051a"/>
<rect x="450.27" y="401.90" width="26.17" height="29.70" fill="#faebdd"/>
<rect x="476.13" y="401.90" width="26.17" height="29.70" fill="#4c1d4b"/>
<rect x="346.80" y="431.30" width="26.17" height="29.70" fill="#f6a47c"/>
<rect x="372.67" y="431.30" width="26.17" height="29.70" fill="#841e5a"/>
<rect x="398.53" y="431.30" width="26.17" height="29.70" fill="#ec4c3e"/>
<rect x="424.40" y="431.30" width="26.17" height="29.70" fill="#f7c7a8"/>
<rect x="450.27" y="431.30" width="26.17" height="29.70" fill="#4c1d4b"/>
<rect x="476.13" y="431.30" width="26.17" height="29.70" fill="#faebdd"/>
<text transform="translate(359.73,301.79) scale(1,1.07)" font-size="7.15" text-anchor="middle" fill="#262626" stroke="#262626" stroke-width="0.12">1</text>
<text transform="translate(385.60,301.79) scale(1,1.07)" font-size="7.15" text-anchor="middle" fill="#ffffff" stroke="#ffffff" stroke-width="0.12">-0.81</text>
<text transform="translate(411.47,301.79) scale(1,1.07)" font-size="7.15" text-anchor="middle" fill="#ffffff" stroke="#ffffff" stroke-width="0.12">0.17</text>
<text transform="translate(437.33,301.79) scale(1,1.07)" font-size="7.15" text-anchor="middle" fill="#262626" stroke="#262626" stroke-width="0.12">0.88</text>
<text transform="translate(463.20,301.79) scale(1,1.07)" font-size="7.15" text-anchor="middle" fill="#ffffff" stroke="#ffffff" stroke-width="0.12">-0.88</text>
<text transform="translate(489.07,301.79) scale(1,1.07)" font-size="7.15" text-anchor="middle" fill="#262626" stroke="#262626" stroke-width="0.12">0.66</text>
<text transform="translate(359.73,331.19) scale(1,1.07)" font-size="7.15" text-anchor="middle" fill="#ffffff" stroke="#ffffff" stroke-width="0.12">-0.81</text>
<text transform="translate(385.60,331.19) scale(1,1.07)" font-size="7.15" text-anchor="middle" fill="#262626" stroke="#262626" stroke-width="0.12">1</text>
<text transform="translate(411.47,331.19) scale(1,1.07)" font-size="7.15" text-anchor="middle" fill="#ffffff" stroke="#ffffff" stroke-width="0.12">-0.14</text>
<text transform="translate(437.33,331.19) scale(1,1.07)" font-size="7.15" text-anchor="middle" fill="#ffffff" stroke="#ffffff" stroke-width="0.12">-0.7</text>
<text transform="translate(463.20,331.19) scale(1,1.07)" font-size="7.15" text-anchor="middle" fill="#262626" stroke="#262626" stroke-width="0.12">0.93</text>
<text transform="translate(489.07,331.19) scale(1,1.07)" font-size="7.15" text-anchor="middle" fill="#ffffff" stroke="#ffffff" stroke-width="0.12">-0.25</text>
<text transform="translate(359.73,360.59) scale(1,1.07)" font-size="7.15" text-anchor="middle" fill="#ffffff" stroke="#ffffff" stroke-width="0.12">0.17</text>
<text transform="translate(385.60,360.59) scale(1,1.07)" font-size="7.15" text-anchor="middle" fill="#ffffff" stroke="#ffffff" stroke-width="0.12">-0.14</text>
<text transform="translate(411.47,360.59) scale(1,1.07)" font-size="7.15" text-anchor="middle" fill="#262626" stroke="#262626" stroke-width="0.12">1</text>
<text transform="translate(437.33,360.59) scale(1,1.07)" font-size="7.15" text-anchor="middle" fill="#ffffff" stroke="#ffffff" stroke-width="0.12">0.24</text>
<text transform="translate(463.20,360.59) scale(1,1.07)" font-size="7.15" text-anchor="middle" fill="#ffffff" stroke="#ffffff" stroke-width="0.12">-0.22</text>
<text transform="translate(489.07,360.59) scale(1,1.07)" font-size="7.15" text-anchor="middle" fill="#ffffff" stroke="#ffffff" stroke-width="0.12">0.3</text>
<text transform="translate(359.73,389.99) scale(1,1.07)" font-size="7.15" text-anchor="middle" fill="#262626" stroke="#262626" stroke-width="0.12">0.88</text>
<text transform="translate(385.60,389.99) scale(1,1.07)" font-size="7.15" text-anchor="middle" fill="#ffffff" stroke="#ffffff" stroke-width="0.12">-0.7</text>
<text transform="translate(411.47,389.99) scale(1,1.07)" font-size="7.15" text-anchor="middle" fill="#ffffff" stroke="#ffffff" stroke-width="0.12">0.24</text>
<text transform="translate(437.33,389.99) scale(1,1.07)" font-size="7.15" text-anchor="middle" fill="#262626" stroke="#262626" stroke-width="0.12">1</text>
<text transform="translate(463.20,389.99) scale(1,1.07)" font-size="7.15" text-anchor="middle" fill="#ffffff" stroke="#ffffff" stroke-width="0.12">-0.87</text>
<text transform="translate(489.07,389.99) scale(1,1.07)" font-size="7.15" text-anchor="middle" fill="#262626" stroke="#262626" stroke-width="0.12">0.82</text>
<text transform="translate(359.73,419.39) scale(1,1.07)" font-size="7.15" text-anchor="middle" fill="#ffffff" stroke="#ffffff" stroke-width="0.12">-0.88</text>
<text transform="translate(385.60,419.39) scale(1,1.07)" font-size="7.15" text-anchor="middle" fill="#262626" stroke="#262626" stroke-width="0.12">0.93</text>
<text transform="translate(411.47,419.39) scale(1,1.07)" font-size="7.15" text-anchor="middle" fill="#ffffff" stroke="#ffffff" stroke-width="0.12">-0.22</text>
<text transform="translate(437.33,419.39) scale(1,1.07)" font-size="7.15" text-anchor="middle" fill="#ffffff" stroke="#ffffff" stroke-width="0.12">-0.87</text>
<text transform="translate(463.20,419.39) scale(1,1.07)" font-size="7.15" text-anchor="middle" fill="#262626" stroke="#262626" stroke-width="0.12">1</text>
<text transform="translate(489.07,419.39) scale(1,1.07)" font-size="7.15" text-anchor="middle" fill="#ffffff" stroke="#ffffff" stroke-width="0.12">-0.5</text>
<text transform="translate(359.73,448.79) scale(1,1.07)" font-size="7.15" text-anchor="middle" fill="#262626" stroke="#262626" stroke-width="0.12">0.66</text>
<text transform="translate(385.60,448.79) scale(1,1.07)" font-size="7.15" text-anchor="middle" fill="#ffffff" stroke="#ffffff" stroke-width="0.12">-0.25</text>
<text transform="translate(411.47,448.79) scale(1,1.07)" font-size="7.15" text-anchor="middle" fill="#ffffff" stroke="#ffffff" stroke-width="0.12">0.3</text>
<text transform="translate(437.33,448.79) scale(1,1.07)" font-size="7.15" text-anchor="middle" fill="#262626" stroke="#262626" stroke-width="0.12">0.82</text>
<text transform="translate(463.20,448.79) scale(1,1.07)" font-size="7.15" text-anchor="middle" fill="#ffffff" stroke="#ffffff" stroke-width="0.12">-0.5</text>
<text transform="translate(489.07,448.79) scale(1,1.07)" font-size="7.15" text-anchor="middle" fill="#262626" stroke="#262626" stroke-width="0.12">1</text>
<text transform="translate(341.90,301.15) scale(1,1.07)" font-size="6.4" text-anchor="end" fill="#222">Temp_Out</text>
<text transform="translate(341.90,330.55) scale(1,1.07)" font-size="6.4" text-anchor="end" fill="#222">Hum_Out</text>
<text transform="translate(341.90,359.95) scale(1,1.07)" font-size="6.4" text-anchor="end" fill="#222">Solar_Rad</text>
<text transform="translate(341.90,389.35) scale(1,1.07)" font-size="6.4" text-anchor="end" fill="#222">Temp_In</text>
<text transform="translate(341.90,418.75) scale(1,1.07)" font-size="6.4" text-anchor="end" fill="#222">Hum_In</text>
<text transform="translate(341.90,448.15) scale(1,1.07)" font-size="6.4" text-anchor="end" fill="#222">Dew_In</text>
<text transform="translate(361.61,466.60) rotate(-90) scale(1,1.07)" font-size="6.34" text-anchor="end" fill="#222">Temp_Out</text>
<text transform="translate(387.48,466.60) rotate(-90) scale(1,1.07)" font-size="6.34" text-anchor="end" fill="#222">Hum_Out</text>
<text transform="translate(413.34,466.60) rotate(-90) scale(1,1.07)" font-size="6.34" text-anchor="end" fill="#222">Solar_Rad</text>
<text transform="translate(439.21,466.60) rotate(-90) scale(1,1.07)" font-size="6.34" text-anchor="end" fill="#222">Temp_In</text>
<text transform="translate(465.08,466.60) rotate(-90) scale(1,1.07)" font-size="6.34" text-anchor="end" fill="#222">Hum_In</text>
<text transform="translate(490.94,466.60) rotate(-90) scale(1,1.07)" font-size="6.34" text-anchor="end" fill="#222">Dew_In</text>
<rect x="512.0" y="284.9" width="9.00" height="176.10" fill="url(#gWinter)"/>
<line x1="521.00" x2="523.20" y1="284.90" y2="284.90" stroke="#333" stroke-width="0.5"/>
<text transform="translate(525.90,287.26) scale(1,1.07)" font-size="6.05" fill="#222">1.00</text>
<line x1="521.00" x2="523.20" y1="308.43" y2="308.43" stroke="#333" stroke-width="0.5"/>
<text transform="translate(525.90,310.79) scale(1,1.07)" font-size="6.05" fill="#222">0.75</text>
<line x1="521.00" x2="523.20" y1="331.96" y2="331.96" stroke="#333" stroke-width="0.5"/>
<text transform="translate(525.90,334.32) scale(1,1.07)" font-size="6.05" fill="#222">0.50</text>
<line x1="521.00" x2="523.20" y1="355.49" y2="355.49" stroke="#333" stroke-width="0.5"/>
<text transform="translate(525.90,357.85) scale(1,1.07)" font-size="6.05" fill="#222">0.25</text>
<line x1="521.00" x2="523.20" y1="379.02" y2="379.02" stroke="#333" stroke-width="0.5"/>
<text transform="translate(525.90,381.38) scale(1,1.07)" font-size="6.05" fill="#222">0.00</text>
<line x1="521.00" x2="523.20" y1="402.55" y2="402.55" stroke="#333" stroke-width="0.5"/>
<text transform="translate(525.90,404.91) scale(1,1.07)" font-size="6.05" fill="#222">−0.25</text>
<line x1="521.00" x2="523.20" y1="426.08" y2="426.08" stroke="#333" stroke-width="0.5"/>
<text transform="translate(525.90,428.44) scale(1,1.07)" font-size="6.05" fill="#222">−0.50</text>
<line x1="521.00" x2="523.20" y1="449.61" y2="449.61" stroke="#333" stroke-width="0.5"/>
<text transform="translate(525.90,451.97) scale(1,1.07)" font-size="6.05" fill="#222">−0.75</text>
<text transform="translate(425.3,525.6) scale(0.985,1)" font-size="13.9" text-anchor="middle" fill="#111" font-family="'Liberation Serif', 'DejaVu Serif', serif">(<tspan font-weight="bold">d</tspan>)</text>
</svg>
</body></html>
